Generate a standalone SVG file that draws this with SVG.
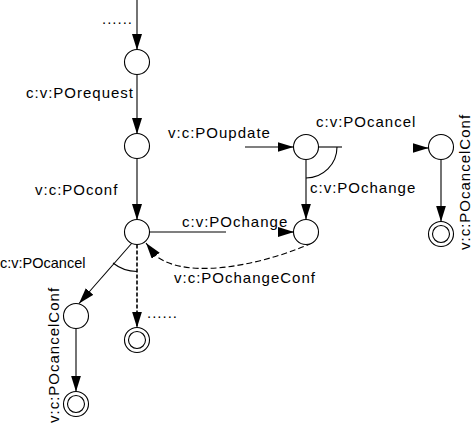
<svg xmlns="http://www.w3.org/2000/svg" width="474" height="426" viewBox="0 0 474 426">
<style>
.n{fill:#fff;stroke:#000;stroke-width:1.1}
.e{fill:none;stroke:#000;stroke-width:1.1}
.d{fill:none;stroke:#000;stroke-width:1.1;stroke-dasharray:6 3}
.dv{fill:none;stroke:#000;stroke-width:1.6;stroke-dasharray:4 2}
text{font-family:"Liberation Sans",Arial,sans-serif;font-size:15px;letter-spacing:1px;fill:#000}
</style>
<defs>
<marker id="ah" markerUnits="userSpaceOnUse" markerWidth="16" markerHeight="10" refX="16" refY="5" orient="auto" viewBox="0 0 16 10">
<path d="M0,0 L16,5 L0,10 z" fill="#000"/>
</marker>
</defs>
<g id="connectors">
<line class="e" x1="137" y1="0" x2="137" y2="50" marker-end="url(#ah)"/>
<line class="e" x1="137" y1="74.5" x2="137" y2="134" marker-end="url(#ah)"/>
<line class="e" x1="137" y1="158.5" x2="137" y2="220" marker-end="url(#ah)"/>
<line class="e" x1="149.5" y1="232" x2="226" y2="232"/>
<line class="e" x1="280" y1="232" x2="294" y2="232" marker-end="url(#ah)"/>
<path class="d" d="M312,243 C270,262 190,282 156,256" />
<line class="e" x1="156" y1="256" x2="146" y2="243" marker-end="url(#ah)"/>
<line class="e" x1="245" y1="147" x2="293.5" y2="147" marker-end="url(#ah)"/>
<line class="e" x1="318.5" y1="147" x2="342" y2="147"/>
<path class="e" d="M337,147 A31,31 0 0 1 306,178"/>
<line class="e" x1="306" y1="159.5" x2="306" y2="219.5" marker-end="url(#ah)"/>
<line class="e" x1="414" y1="148" x2="428.5" y2="148" marker-end="url(#ah)"/>
<line class="e" x1="441" y1="159.5" x2="441" y2="221.5" marker-end="url(#ah)"/>
<line class="e" x1="132" y1="243" x2="79" y2="303.5" marker-end="url(#ah)"/>
<path class="e" d="M113,263 A39,39 0 0 0 137,271.5"/>
<line class="dv" x1="137" y1="244.5" x2="137" y2="327.5" marker-end="url(#ah)"/>
<line class="e" x1="76" y1="328.5" x2="76" y2="391.5" marker-end="url(#ah)"/>
</g>
<g id="n1"><circle class="n" cx="137" cy="62" r="12.5"/></g>
<g id="n2"><circle class="n" cx="137" cy="146" r="12.5"/></g>
<g id="n3"><circle class="n" cx="137" cy="232" r="12.5"/></g>
<g id="n4"><circle class="n" cx="306" cy="147" r="12.5"/></g>
<g id="n5"><circle class="n" cx="306" cy="232" r="12.5"/></g>
<g id="n6"><circle class="n" cx="441" cy="147" r="12.5"/></g>
<g id="n7"><circle class="n" cx="441" cy="234" r="12.5"/><circle class="n" cx="441" cy="234" r="8.5"/></g>
<g id="n8"><circle class="n" cx="76" cy="316" r="12.5"/></g>
<g id="n9"><circle class="n" cx="137" cy="340" r="12.5"/><circle class="n" cx="137" cy="340" r="8.5"/></g>
<g id="n10"><circle class="n" cx="76" cy="404" r="12.5"/><circle class="n" cx="76" cy="404" r="8.5"/></g>
<g id="labels">
<text x="102" y="24">......</text>
<text x="26" y="98">c:v:POrequest</text>
<text x="35" y="195">v:c:POconf</text>
<text x="168" y="138">v:c:POupdate</text>
<text x="316" y="127">c:v:POcancel</text>
<text x="310" y="193">c:v:POchange</text>
<text x="182" y="227">c:v:POchange</text>
<text x="174" y="283">v:c:POchangeConf</text>
<text x="0" y="268" style="letter-spacing:0;font-size:14.5px">c:v:POcancel</text>
<text x="147" y="318">......</text>
<text transform="translate(59,423) rotate(-90)">v:c:POcancelConf</text>
<text transform="translate(470,250) rotate(-90)">v:c:POcancelConf</text>
</g>
</svg>
